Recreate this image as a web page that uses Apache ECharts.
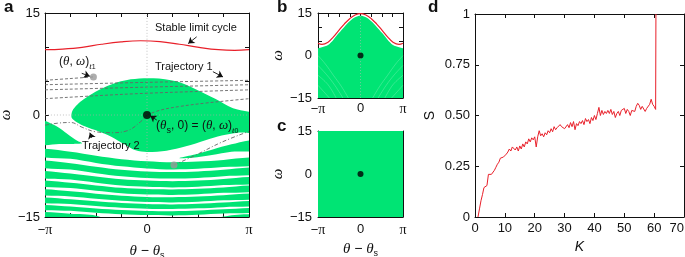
<!DOCTYPE html>
<html>
<head>
<meta charset="utf-8">
<script src="https://cdn.jsdelivr.net/npm/echarts@6/dist/echarts.min.js"></script>
<style>
  html, body { margin: 0; padding: 0; background: #fff; }
  #chart { width: 685px; height: 257px; }
</style>
</head>
<body>
<div id="chart"></div>
<script>
const PI = Math.PI

// ---- panel a: basin of attraction ----
// phase positions where the stripe edges were read
const stripeTheta = [-PI, -3 * PI / 4, -PI / 2, -PI / 4, 0, PI / 4, PI / 2, 3 * PI / 4, PI]
const stripeUpper = [
  [-5.0, -5.4, -6.0, -6.5, -6.8, -6.95, -6.85, -6.6, -6.3],
  [-6.7, -7.08, -7.6, -8.05, -8.3, -8.4, -8.3, -8.05, -7.75],
  [-8.25, -8.6, -9.05, -9.45, -9.65, -9.75, -9.65, -9.4, -9.15],
  [-9.65, -9.95, -10.35, -10.7, -10.9, -10.95, -10.85, -10.65, -10.4],
  [-10.95, -11.23, -11.57, -11.87, -12.05, -12.1, -12.0, -11.8, -11.57],
  [-12.15, -12.4, -12.7, -12.95, -13.1, -13.15, -13.05, -12.87, -12.67],
  [-13.25, -13.47, -13.75, -13.97, -14.1, -14.15, -14.05, -13.87, -13.7],
  [-14.3, -14.52, -14.8, -15.02, -15.15, -15.2, -15.1, -14.92, -14.75]
]
const stripeLower = [
  [-6.05, -6.45, -7.05, -7.55, -7.85, -8.0, -7.9, -7.65, -7.35],
  [-7.65, -8.03, -8.55, -9.0, -9.25, -9.35, -9.25, -9.0, -8.7],
  [-9.15, -9.5, -9.95, -10.35, -10.55, -10.65, -10.55, -10.3, -10.05],
  [-10.45, -10.75, -11.15, -11.5, -11.7, -11.75, -11.65, -11.45, -11.2],
  [-11.7, -11.98, -12.32, -12.62, -12.8, -12.85, -12.75, -12.55, -12.32],
  [-12.83, -13.08, -13.38, -13.63, -13.78, -13.83, -13.73, -13.55, -13.35],
  [-13.87, -14.09, -14.37, -14.59, -14.72, -14.77, -14.67, -14.49, -14.32],
  [-14.9, -15.12, -15.4, -15.62, -15.75, -15.8, -15.7, -15.52, -15.35]
]
// the two tapering tongues at the frame edges, below the big region
const leftTongue = [
  [-PI, -0.7], [-2.8, -1.6], [-2.45, -2.8], [-2.15, -3.8], [-2.0, -4.15],
  [-2.3, -4.25], [-2.7, -4.25], [-PI, -4.2]
]
const rightTongue = [
  [PI, -3.7], [2.6, -4.3], [2.0, -5.1], [1.4, -5.9], [1.0, -6.35],
  [1.4, -6.3], [2.0, -5.9], [2.6, -5.4], [PI, -5.15]
]
// the big region round the stable point (theta, omega), clockwise from the left tip
const blobOutline = [
  [-2.32, -0.4], [-2.3, 0.6], [-2.15, 1.5], [-1.95, 2.3], [-1.6, 3.4], [-1.1, 4.5],
  [-0.5, 5.25], [0.2, 5.4], [0.9, 4.95], [1.5, 3.8], [2.1, 2.4], [2.65, 1.0], [PI, 0.0],
  [PI, -2.45], [2.8, -2.6], [2.3, -3.0], [1.8, -3.7], [1.2, -4.6], [0.6, -5.25], [0, -5.45],
  [-0.35, -5.2], [-0.7, -4.3], [-1.1, -3.2], [-1.5, -2.4], [-1.9, -1.7], [-2.15, -1.1]
]
const limitCycleA = [
  [-PI, 9.6], [-2.6, 9.7], [-2.0, 9.95], [-1.4, 10.4], [-0.8, 10.75], [-0.2, 10.92],
  [0.4, 10.8], [1.0, 10.4], [1.6, 9.95], [2.2, 9.6], [2.7, 9.5], [PI, 9.6]
]
const trajectory1 = [
  [[0, 0], [0.4, 0.7], [1.0, 1.25], [1.8, 1.75], [2.5, 2.1], [PI, 2.4]],
  [[-PI, 2.4], [-1.5, 2.85], [0, 3.2], [1.5, 3.45], [PI, 3.7]],
  [[-PI, 3.7], [0, 4.1], [PI, 4.45]],
  [[-PI, 4.45], [0, 4.8], [PI, 5.1]],
  [[-PI, 5.1], [-2.4, 5.35], [-1.65, 5.6]]
]
const trajectory2 = [
  [[0.83, -7.35], [1.5, -5.9], [2.3, -4.0], [PI, -2.4]],
  [[-PI, -1.5], [-2.75, -1.2], [-2.35, -1.1], [-2.0, -1.8], [-1.6, -2.45], [-1.1, -2.6],
    [-0.6, -2.3], [-0.2, -1.0], [0, 0]]
]
const startT1 = [-1.65, 5.6]
const startT2 = [0.83, -7.35]
const stablePoint = [0, 0]

// ---- panel b ----
const limitCycleB = [
  [-PI, 4.3], [-2.85, 3.9], [-2.4, 4.7], [-2.0, 6.6], [-1.6, 8.9], [-1.2, 11.1], [-0.8, 13.0],
  [-0.4, 14.3], [0, 14.8], [0.4, 14.3], [0.8, 13.0], [1.2, 11.1], [1.6, 8.9], [2.0, 6.6],
  [2.4, 4.7], [2.85, 3.9], [PI, 4.3]
]
const basinTopB = [
  [-PI, 1.2], [-2.85, 2.9], [-2.4, 3.7], [-2.0, 5.6], [-1.6, 7.9], [-1.2, 10.1], [-0.8, 12.1],
  [-0.4, 13.5], [0, 14.0], [0.4, 13.5], [0.8, 12.1], [1.2, 10.1], [1.6, 7.9], [2.0, 5.6],
  [2.4, 3.7], [2.85, 2.9], [PI, 1.2]
]
const faintLinesB = [
  [[-PI, 0.0], [-2.6, -3.0], [-2.0, -7.0], [-1.4, -11.0], [-0.9, -15]],
  [[-PI, -3.5], [-2.5, -6.8], [-1.9, -10.5], [-1.3, -15]],
  [[-PI, -7.0], [-2.4, -10.3], [-1.8, -15]],
  [[-PI, -10.5], [-2.3, -15]],
  [[PI, 0.0], [2.6, -3.0], [2.0, -7.0], [1.4, -11.0], [0.9, -15]],
  [[PI, -3.5], [2.5, -6.8], [1.9, -10.5], [1.3, -15]],
  [[PI, -7.0], [2.4, -10.3], [1.8, -15]],
  [[PI, -10.5], [2.3, -15]]
]

// ---- panel d ----
const kValues = [
  1, 1.5, 2, 2.5, 3, 3.5, 4, 4.5, 5, 5.5, 6, 6.5, 7, 7.5, 8, 8.5, 9, 9.5, 10, 10.5,
  11, 11.5, 12, 12.5, 13, 13.5, 14, 14.5, 15, 15.5, 16, 16.5, 17, 17.5, 18, 18.5, 19, 19.5, 20, 20.5,
  21, 21.5, 22, 22.5, 23, 23.5, 24, 24.5, 25, 25.5, 26, 26.5, 27, 27.5, 28, 28.5, 29, 29.5, 30, 30.5,
  31, 31.5, 32, 32.5, 33, 33.5, 34, 34.5, 35, 35.5, 36, 36.5, 37, 37.5, 38, 38.5, 39, 39.5, 40, 40.5,
  41, 41.5, 42, 42.5, 43, 43.5, 44, 44.5, 45, 45.5, 46, 46.5, 47, 47.5, 48, 48.5, 49, 49.5, 50, 50.5,
  51, 51.5, 52, 52.5, 53, 53.5, 54, 54.5, 55, 55.5, 56, 56.5, 57, 57.5, 58, 58.5, 59, 59.5, 60, 60.5,
  60.6
]
const sValues = [
  0, 0.04, 0.08, 0.11, 0.145, 0.15, 0.155, 0.21, 0.205, 0.21, 0.215, 0.23, 0.245, 0.26, 0.27, 0.29, 0.285, 0.295, 0.29, 0.31,
  0.32, 0.335, 0.325, 0.345, 0.35, 0.33, 0.345, 0.325, 0.35, 0.335, 0.36, 0.345, 0.37, 0.36, 0.385, 0.37, 0.39, 0.38, 0.395, 0.345,
  0.395, 0.425, 0.4, 0.41, 0.395, 0.415, 0.405, 0.425, 0.415, 0.435, 0.42, 0.445, 0.43, 0.44, 0.435, 0.455, 0.445, 0.44, 0.435, 0.43,
  0.455, 0.44, 0.465, 0.445, 0.47, 0.43, 0.46, 0.45, 0.47, 0.46, 0.475, 0.455, 0.485, 0.47, 0.48, 0.46, 0.49, 0.475, 0.5, 0.48,
  0.51, 0.54, 0.5, 0.525, 0.505, 0.52, 0.51, 0.525, 0.51, 0.53, 0.505, 0.52, 0.49, 0.51, 0.52, 0.5, 0.525, 0.52, 0.535, 0.51,
  0.53, 0.52, 0.5, 0.525, 0.53, 0.52, 0.545, 0.56, 0.55, 0.53, 0.545, 0.54, 0.52, 0.535, 0.53, 0.555, 0.58, 0.555, 0.545, 0.53,
  1.0
]

const GREEN = '#00e474'
const RED = '#e8202a'
const INK = '#111'
const SANS = 'Liberation Sans'
const SERIF = 'Liberation Serif'

const chart = echarts.init(document.getElementById('chart'), null, { renderer: 'canvas' })

function piLabel(v) {
  if (Math.abs(v + PI) < 1e-6) return '{m|−}{p|π}'
  if (Math.abs(v) < 1e-6) return '0'
  if (Math.abs(v - PI) < 1e-6) return '{p|π}'
  return ''
}
function omegaLabel(v) {
  if (v === 15) return '15'
  if (v === 0) return '0'
  if (v === -15) return '−15'
  return ''
}
const labelRich = {
  m: { fontFamily: SANS, fontSize: 13, color: INK },
  p: { fontFamily: SERIF, fontSize: 14, color: INK }
}
const thetaName = '{i|θ} − {i|θ}{s|s}'
const thetaNameStyle = {
  fontFamily: SANS, fontSize: 14, color: INK,
  rich: {
    i: { fontFamily: SERIF, fontStyle: 'italic', fontSize: 15, color: INK, lineHeight: 18 },
    s: { fontFamily: SANS, fontSize: 9, color: INK, verticalAlign: 'bottom', lineHeight: 18 }
  }
}

function frame(grid, min, max, interval, fmt, margin, isX, extra) {
  const base = {
    type: 'value', gridIndex: grid, min: min, max: max, interval: interval,
    axisLine: { onZero: false, lineStyle: { color: INK, width: 1 } },
    axisTick: { inside: true, length: 4, lineStyle: { color: INK, width: 1 } },
    splitLine: { show: false }
  }
  const main = Object.assign({}, base, {
    position: isX ? 'bottom' : 'left',
    axisLabel: {
      formatter: fmt, margin: margin, color: INK, fontSize: 13, fontFamily: SANS,
      rich: labelRich, showMinLabel: true, showMaxLabel: true, hideOverlap: false
    }
  }, extra || {})
  const mirror = Object.assign({}, base, {
    position: isX ? 'top' : 'right', axisLabel: { show: false }
  })
  return [main, mirror]
}

const omegaName = {
  name: 'ω', nameLocation: 'middle', nameGap: 31,
  nameTextStyle: { fontFamily: SERIF, fontStyle: 'italic', fontSize: 15, color: INK }
}

const kAxis = frame(3, 0, 70, 10, function (v) { return String(v) }, 5, true,
  { name: 'K', nameLocation: 'middle', nameGap: 17,
    nameTextStyle: { fontFamily: SANS, fontStyle: 'italic', fontSize: 14, color: INK } })
kAxis[0].axisLabel.alignMaxLabel = 'right'

const xAxes = [].concat(
  frame(0, -PI, PI, PI / 4, piLabel, 6, true,
    { name: thetaName, nameLocation: 'middle', nameGap: 25, nameTextStyle: thetaNameStyle }),
  frame(1, -PI, PI, PI / 4, piLabel, 4, true),
  frame(2, -PI, PI, PI / 4, piLabel, 6, true,
    { name: thetaName, nameLocation: 'middle', nameGap: 23, nameTextStyle: thetaNameStyle }),
  kAxis
)
const yAxes = [].concat(
  frame(0, -15, 15, 5, omegaLabel, 5, false, Object.assign({}, omegaName, { nameGap: 30 })),
  frame(1, -15, 15, 5, omegaLabel, 6, false, omegaName),
  frame(2, -15, 15, 5, omegaLabel, 6, false, omegaName),
  frame(3, 0, 1, 0.25, function (v) {
    if (v === 0) return '0'
    if (v === 1) return '1'
    return v.toFixed(2)
  }, 5, false, { name: 'S', nameLocation: 'middle', nameGap: 38,
    nameTextStyle: { fontFamily: SANS, fontSize: 14, color: INK } })
)

// axis index pairs: [bottom/left, top/right] per panel
const AX = { a: 0, b: 2, c: 4, d: 6 }

function polygons(name, polys, panel, color) {
  return {
    name: name, type: 'custom', xAxisIndex: AX[panel], yAxisIndex: AX[panel],
    clip: true, silent: true, z: 1,
    data: polys.map(function () { return [0, 0] }),
    renderItem: function (params, api) {
      const pts = polys[params.dataIndex].map(function (p) {
        const c = api.coord(p)
        // edge points are pushed out a little so smoothing never shows at the frame
        if (p[0] <= -PI + 1e-6) c[0] -= 8
        if (p[0] >= PI - 1e-6) c[0] += 8
        if (p[1] <= -15) c[1] += 8
        if (p[1] >= 15) c[1] -= 8
        return c
      })
      return {
        type: 'polygon',
        shape: { points: pts, smooth: 0.3 },
        style: { fill: color }
      }
    }
  }
}

const stripePolys = stripeUpper.map(function (up, k) {
  const top = up.map(function (w, i) { return [stripeTheta[i], w] })
  const bot = stripeLower[k].map(function (w, i) { return [stripeTheta[i], w] }).reverse()
  return top.concat(bot)
})

function curve(data, panel, color, width, type, z) {
  return {
    type: 'line', xAxisIndex: AX[panel], yAxisIndex: AX[panel], data: data,
    smooth: 0.4, showSymbol: false, silent: true, clip: true, z: z || 3,
    lineStyle: { color: color, width: width, type: type || 'solid' }
  }
}
function dot(p, panel, color, size) {
  return {
    type: 'scatter', xAxisIndex: AX[panel], yAxisIndex: AX[panel], data: [p],
    symbolSize: size, itemStyle: { color: color }, silent: true, z: 5
  }
}
function arrows(list) {
  return {
    type: 'lines', coordinateSystem: 'cartesian2d', xAxisIndex: 0, yAxisIndex: 0,
    data: list.map(function (c) { return { coords: c } }),
    symbol: ['none', 'arrow'], symbolSize: 6, silent: true, z: 6,
    lineStyle: { color: INK, width: 0.9, opacity: 1, curveness: 0 }
  }
}

const series = []
// dotted guides through the stable point
series.push(curve([[0, -15], [0, 15]], 'a', '#aaa', 0.7, [1, 2], 0))
series.push(curve([[-PI, 0], [PI, 0]], 'a', '#aaa', 0.7, [1, 2], 0))
series.push(curve([[0, -15], [0, 15]], 'b', '#bbb', 0.6, [1, 2], 0))
series.push(polygons('blob', [blobOutline, leftTongue, rightTongue], 'a', GREEN))
series.push(polygons('stripes', stripePolys, 'a', GREEN))
series.push(curve(limitCycleA, 'a', RED, 1.2))
trajectory1.forEach(function (seg) { series.push(curve(seg, 'a', '#666', 0.9, [3, 2])) })
trajectory2.forEach(function (seg) { series.push(curve(seg, 'a', '#666', 0.9, [4, 2, 1, 2])) })
series.push(dot(startT1, 'a', '#999', 7))
series.push(dot(startT2, 'a', '#999', 7))
series.push(dot(stablePoint, 'a', '#000', 8))
series.push(arrows([
  [[1.53, 11.5], [1.27, 10.5]],
  [[2.03, 6.37], [2.34, 5.6]],
  [[-2.01, 6.13], [-1.76, 5.7]],
  [[0.3, -0.74], [0.1, -0.12]],
  [[-1.7, -3.38], [-1.76, -2.6]]
]))

series.push(polygons('basinB', [basinTopB.concat([[PI, -15], [-PI, -15]])], 'b', GREEN))
faintLinesB.forEach(function (l) { series.push(curve(l, 'b', 'rgba(255,255,255,0.3)', 0.7)) })
series.push(curve(limitCycleB, 'b', RED, 1.2))
series.push(dot(stablePoint, 'b', '#000', 6))

series.push(polygons('basinC', [[[-PI, 15], [PI, 15], [PI, -15], [-PI, -15]]], 'c', GREEN))
series.push(dot(stablePoint, 'c', '#000', 6))

series.push({
  type: 'line', xAxisIndex: AX.d, yAxisIndex: AX.d, silent: true, showSymbol: false, clip: true,
  data: kValues.map(function (k, i) { return [k, sValues[i]] }),
  lineStyle: { color: RED, width: 1 }
})

// annotation text
const annRich = {
  i: { fontFamily: SERIF, fontStyle: 'italic', fontSize: 13, fill: INK, lineHeight: 18 },
  n: { fontFamily: SANS, fontSize: 12, fill: INK, lineHeight: 18 },
  s: { fontFamily: SERIF, fontStyle: 'italic', fontSize: 9, fill: INK, verticalAlign: 'bottom', lineHeight: 18 },
  ss: { fontFamily: SANS, fontSize: 7, fill: INK, verticalAlign: 'bottom', lineHeight: 18 },
  r: { fontFamily: SANS, fontSize: 9, fill: INK, verticalAlign: 'bottom', lineHeight: 18 }
}
function label(x, y, text, font) {
  return {
    type: 'text', x: x, y: y, silent: true, z: 100,
    style: { text: text, fill: INK, font: font || ('11px "' + SANS + '"'), verticalAlign: 'middle', rich: annRich }
  }
}
function panelTag(x, y, t) {
  return label(x, y, t, 'bold 17px "' + SANS + '"')
}

const option = {
  animation: false,
  backgroundColor: '#fff',
  grid: [
    { left: 45, top: 13, width: 204, height: 204, outerBoundsMode: 'none' },
    { left: 318, top: 13, width: 85, height: 85, outerBoundsMode: 'none' },
    { left: 318, top: 131, width: 85, height: 86, outerBoundsMode: 'none' },
    { left: 475, top: 14, width: 209, height: 203, outerBoundsMode: 'none' }
  ],
  xAxis: xAxes,
  yAxis: yAxes,
  series: series,
  graphic: [
    panelTag(4, 7, 'a'), panelTag(277, 7, 'b'), panelTag(277, 126, 'c'), panelTag(428, 7, 'd'),
    label(155, 28, 'Stable limit cycle'),
    label(155, 67, 'Trajectory 1'),
    label(82, 146, 'Trajectory 2'),
    label(59, 62, '{n|(}{i|θ}{n|, }{i|ω}{n|)}{s|t}{ss|1}'),
    label(156, 126, '{n|(}{i|θ}{r|s}{n|, 0) = (}{i|θ}{n|, }{i|ω}{n|)}{s|t}{ss|0}')
  ]
}
chart.setOption(option)
</script>
</body>
</html>
